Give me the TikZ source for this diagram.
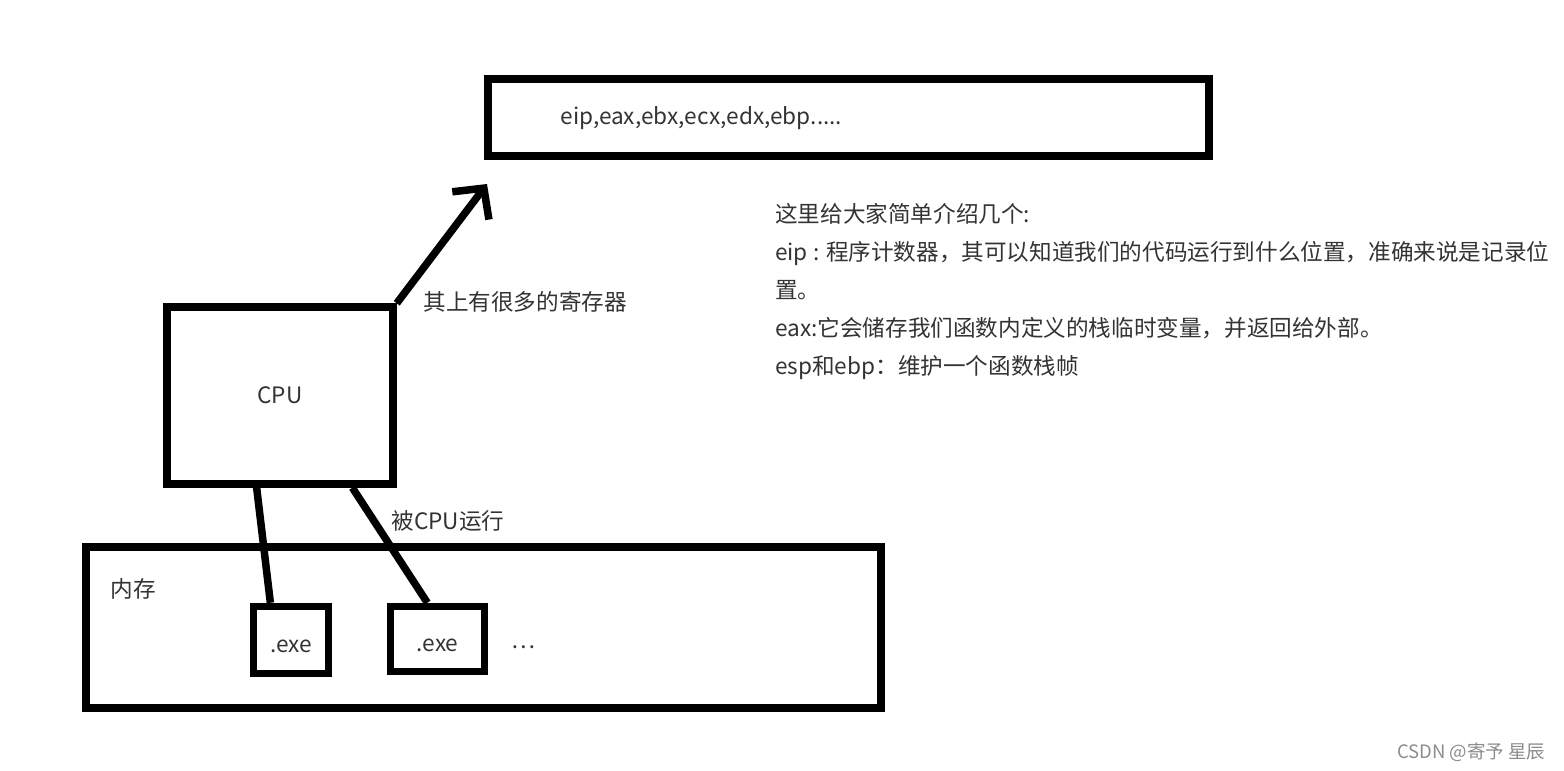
\documentclass[tikz,border=0pt]{standalone}
\usepackage{fontspec}
\setmainfont{Noto Sans CJK SC}
\usetikzlibrary{arrows.meta,calc}
\begin{document}
\begin{tikzpicture}[x=1pt,y=-1pt,
  box/.style={draw, line width=7.5pt, inner sep=0pt},
  txt/.style={font=\fontsize{22.6}{38}\selectfont, text=black!80},
  exelbl/.style={text height=24pt, text depth=0pt},
  wire/.style={line width=7.5pt}]
\useasboundingbox (0,0) rectangle (1564,771);

\node [box, minimum width=721pt, minimum height=77pt] (regs) at (848.5,117.5) {};
\node [txt, anchor=west] (reglist) at (557,118) {eip,eax,ebx,ecx,edx,ebp.....};

\node [box, txt, minimum width=226pt, minimum height=177pt] (cpu) at (280,395.5) {CPU};
\node [box, minimum width=795pt, minimum height=161pt] (mem) at (483.5,627.5) {};
\node [txt] (memname) at (133,589) {内存};

\node [box, txt, exelbl, minimum width=75pt, minimum height=67pt] (exe1) at (291,640) {.exe};
\node [box, txt, exelbl, minimum width=94pt, minimum height=65pt] (exe2) at (437.5,639) {.exe};
\node [txt] (more) at (523,647) {…};

\coordinate (tip) at (487,184);
\draw [wire, -{Straight Barb[length=22pt,width=46pt]}] (cpu.north east) -- (tip);
\node [txt, anchor=west] (haveregs) at (420,302) {其上有很多的寄存器};

\draw [wire] ($(cpu.south west)!0.4!(cpu.south east)$) -- ($(exe1.north west)!0.25!(exe1.north east)$);
\draw [wire] ($(cpu.south west)!0.81!(cpu.south east)$) -- ($(exe2.north west)!0.4!(exe2.north east)$);
\node [txt, anchor=west] (run) at (388,521) {被CPU运行};

\node [txt, anchor=north west, align=left, inner sep=0pt] (notes) at (775,203) {这里给大家简单介绍几个:\\
eip : 程序计数器，其可以知道我们的代码运行到什么位置，准确来说是记录位\\
置。\\
eax:它会储存我们函数内定义的栈临时变量，并返回给外部。\\
esp和ebp：维护一个函数栈帧};

\node [font=\fontsize{18.5}{22}\selectfont, text=black!45, anchor=east] (mark) at (1549,752) {CSDN @寄予 星辰};
\end{tikzpicture}
\end{document}
